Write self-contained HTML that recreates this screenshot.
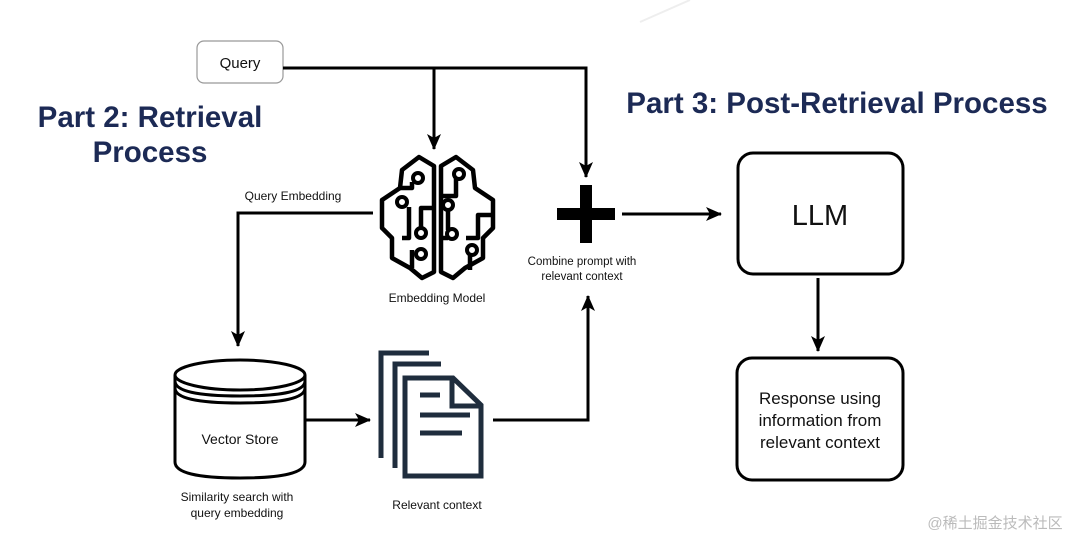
<!DOCTYPE html>
<html><head><meta charset="utf-8"><style>
body{margin:0;background:#fff;}
svg{display:block}
text{font-family:"Liberation Sans",Arial,sans-serif;}
</style></head><body>
<svg width="1080" height="541" viewBox="0 0 1080 541" xmlns="http://www.w3.org/2000/svg">
<defs>
<marker id="ah" markerWidth="16" markerHeight="16" refX="15" refY="8" orient="auto" markerUnits="userSpaceOnUse" viewBox="0 0 16 16">
<path d="M0,1 L16,8 L0,15 L4,8 z" fill="#000"/>
</marker>
</defs>
<line x1="640" y1="22" x2="690" y2="0" stroke="#eee" stroke-width="2"/>
<!-- Query -->
<rect x="197" y="41" width="86" height="42" rx="7" fill="#fff" stroke="#999" stroke-width="1.2"/>
<text x="240" y="68" font-size="15" text-anchor="middle" fill="#111">Query</text>
<path d="M283,68 H586 V177" fill="none" stroke="#000" stroke-width="3" marker-end="url(#ah)"/>
<path d="M434,68 V149" fill="none" stroke="#000" stroke-width="3" marker-end="url(#ah)"/>
<!-- Titles -->
<text x="150" y="127" font-size="29.5" font-weight="bold" text-anchor="middle" fill="#1c2a55">Part 2: Retrieval</text>
<text x="150" y="162" font-size="29.5" font-weight="bold" text-anchor="middle" fill="#1c2a55">Process</text>
<text x="837" y="113" font-size="29.5" font-weight="bold" text-anchor="middle" fill="#1c2a55">Part 3: Post-Retrieval Process</text>
<!-- Query Embedding -->
<text x="293" y="200" font-size="12" text-anchor="middle" fill="#111">Query Embedding</text>
<path d="M373,213 H238 V346" fill="none" stroke="#000" stroke-width="3" marker-end="url(#ah)"/>
<!-- Brain -->
<g fill="none" stroke="#000" stroke-width="4.5" stroke-linejoin="round">
<path d="M434,166 L419,157 L402,170 L400,188 L382,200 L382,228 L392,238 L392,258 L410,268 L422,278 L434,272 Z"/>
<path d="M441,166 L456,157 L473,170 L475,188 L493,200 L493,228 L483,238 L483,258 L465,268 L453,278 L441,272 Z"/>
<path d="M400,188 H412 V182 M409,207 V238 H402 M421,228 V208 H434 M412,250 V268 M420,256 H426 M410,258"/>
<path d="M456,174 V196 H441 M448,210 V230 M493,215 H478 V238 H466 M470,252 V270 M441,238 H448"/>
</g>
<g fill="#fff" stroke="#000" stroke-width="4">
<circle cx="418" cy="178" r="5"/><circle cx="402" cy="202" r="5"/><circle cx="421" cy="233" r="5"/><circle cx="421" cy="254" r="5"/>
<circle cx="459" cy="174" r="5"/><circle cx="448" cy="205" r="5"/><circle cx="452" cy="234" r="5"/><circle cx="472" cy="250" r="5"/>
</g>
<text x="437" y="302" font-size="12" text-anchor="middle" fill="#111">Embedding Model</text>
<!-- Plus -->
<rect x="580" y="185" width="12" height="58" fill="#000"/>
<rect x="557" y="208" width="58" height="12" fill="#000"/>
<text x="582" y="265" font-size="11.5" text-anchor="middle" fill="#111">Combine prompt with</text>
<text x="582" y="280" font-size="11.5" text-anchor="middle" fill="#111">relevant context</text>
<path d="M622,214 H721" fill="none" stroke="#000" stroke-width="3" marker-end="url(#ah)"/>
<!-- LLM -->
<rect x="738" y="153" width="165" height="121" rx="15" fill="#fff" stroke="#000" stroke-width="3"/>
<text x="820" y="225" font-size="29" text-anchor="middle" fill="#111">LLM</text>
<path d="M818,278 V351" fill="none" stroke="#000" stroke-width="3" marker-end="url(#ah)"/>
<rect x="737" y="358" width="166" height="122" rx="15" fill="#fff" stroke="#000" stroke-width="3"/>
<text x="820" y="404" font-size="17" text-anchor="middle" fill="#111">Response using</text>
<text x="820" y="426" font-size="17" text-anchor="middle" fill="#111">information from</text>
<text x="820" y="448" font-size="17" text-anchor="middle" fill="#111">relevant context</text>
<!-- Cylinder -->
<g fill="#fff" stroke="#000" stroke-width="3">
<path d="M175,375 V462 Q175,478 240,478 Q305,478 305,462 V375"/>
<ellipse cx="240" cy="375" rx="65" ry="15"/>
<path d="M175,381 Q175,396 240,396 Q305,396 305,381" fill="none"/>
<path d="M175,388 Q175,403 240,403 Q305,403 305,388" fill="none"/>
</g>
<text x="240" y="444" font-size="14" text-anchor="middle" fill="#111">Vector Store</text>
<path d="M306,420 H370" fill="none" stroke="#000" stroke-width="3" marker-end="url(#ah)"/>
<text x="237" y="501" font-size="12" text-anchor="middle" fill="#111">Similarity search with</text>
<text x="237" y="517" font-size="12" text-anchor="middle" fill="#111">query embedding</text>
<!-- Docs -->
<g fill="none" stroke="#1f2d3d" stroke-width="5">
<path d="M429,353 H381 V458"/>
<path d="M441,364 H395 V468"/>
<path d="M405,378 H453 L481,405 V476 H405 Z" fill="#fff"/>
<path d="M452,378 V406 H481"/>
<path d="M420,395 H440 M420,415 H470 M420,433 H462"/>
</g>
<text x="437" y="509" font-size="12" text-anchor="middle" fill="#111">Relevant context</text>
<path d="M493,420 H588 V296" fill="none" stroke="#000" stroke-width="3" marker-end="url(#ah)"/>
<text x="995" y="528" font-size="15" text-anchor="middle" fill="#bbb" font-family="Liberation Sans, Noto Sans CJK SC, sans-serif">@稀土掘金技术社区</text>
</svg>
</body></html>
